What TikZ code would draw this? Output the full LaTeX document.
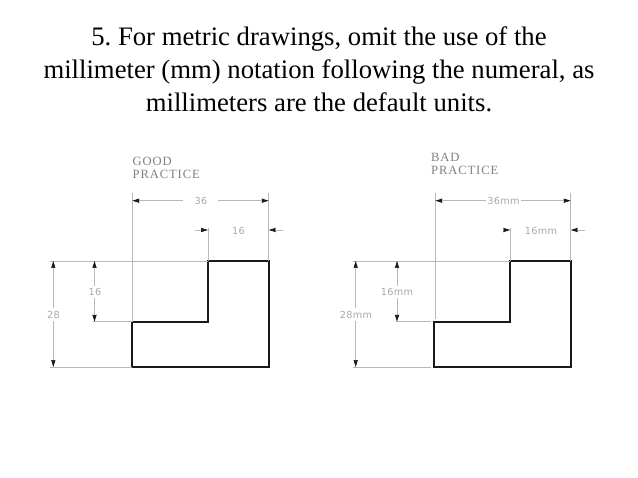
\documentclass[tikz,border=0pt]{standalone}
\usepackage{fontspec}
\setmainfont{Liberation Serif}
\newfontfamily\dimfont[LetterSpace=3]{DejaVu Sans}
\newfontfamily\headfont[LetterSpace=7]{Liberation Serif}
\usetikzlibrary{arrows.meta}
\definecolor{dimgray}{HTML}{B8B8B8}
\definecolor{dimtext}{HTML}{A8A8A8}
\definecolor{headtext}{HTML}{808080}
\tikzset{
  part/.style={draw=black!90,line width=1.9pt,line join=miter},
  extline/.style={draw=dimgray,line width=0.7pt},
  dimline/.style={draw=dimgray,line width=0.7pt,-{Stealth[length=7pt,width=4.2pt,inset=0.5pt,black!90]}},
  dimlabel/.style={text=dimtext,font=\fontsize{9.7}{11}\dimfont,inner sep=0pt},
  headlabel/.style={text=headtext,font=\fontsize{12.6}{12.5}\headfont,align=left,anchor=north west,inner sep=0pt},
  titlelabel/.style={text=black,font=\fontsize{26.7}{33}\selectfont\frenchspacing,align=center,inner sep=0pt}
}
\begin{document}
\begin{tikzpicture}[x=1pt,y=-1pt]
\useasboundingbox (0,0) rectangle (638,478);
\node[titlelabel] (title) at (319,69.5) {5. For metric drawings, omit the use of the\\millimeter (mm) notation following the numeral, as\\millimeters are the default units.};

% ---------- GOOD PRACTICE ----------
\begin{scope}[name prefix=g-]
\coordinate (tl) at (132.3,321.7);
\coordinate (sb) at (208,321.7);
\coordinate (st) at (208,261);
\coordinate (tr) at (268.7,261);
\coordinate (br) at (268.7,367);
\coordinate (bl) at (132.3,367);
\draw[part] (tl) -- (sb) -- (st) -- (tr) -- (br) -- (bl) -- cycle;
\node[headlabel] (head) at (132.5,157) {GOOD\\PRACTICE};
% extension lines
\coordinate (e1) at (132.3,193); \draw[extline] (tl) -- (e1);
\coordinate (e2) at (268.7,193); \draw[extline] (tr) -- (e2);
\coordinate (e3) at (208,228);   \draw[extline] (st) -- (e3);
\coordinate (e4) at (50,261);    \draw[extline] (st) -- (e4);
\coordinate (e5) at (93,321.7);  \draw[extline] (tl) -- (e5);
\coordinate (e6) at (50,367);    \draw[extline] (bl) -- (e6);
% dimension labels
\node[dimlabel] (d36) at (201,201) {36};
\node[dimlabel] (d16a) at (238.5,231) {16};
\node[dimlabel] (d16b) at (95,292) {16};
\node[dimlabel] (d28) at (53.5,314.5) {28};
% arrow targets
\coordinate (a1) at (132.3,200.7); \coordinate (a1t) at (183,200.7);
\coordinate (a2) at (268.7,200.7); \coordinate (a2t) at (218,200.7);
\draw[dimline] (a1t) -- (a1);
\draw[dimline] (a2t) -- (a2);
\coordinate (a3) at (208,230); \coordinate (a3t) at (195,230);
\coordinate (a4) at (268.7,230); \coordinate (a4t) at (283,230);
\draw[dimline] (a3t) -- (a3);
\draw[dimline] (a4t) -- (a4);
\coordinate (a5) at (94.5,261); \coordinate (a5t) at (94.5,286);
\coordinate (a6) at (94.5,321.7); \coordinate (a6t) at (94.5,298);
\draw[dimline] (a5t) -- (a5);
\draw[dimline] (a6t) -- (a6);
\coordinate (a7) at (53.3,261); \coordinate (a7t) at (53.3,308);
\coordinate (a8) at (53.3,367); \coordinate (a8t) at (53.3,321);
\draw[dimline] (a7t) -- (a7);
\draw[dimline] (a8t) -- (a8);
\end{scope}

% ---------- BAD PRACTICE ----------
\begin{scope}[name prefix=b-]
\coordinate (tl) at (434.3,321.7);
\coordinate (sb) at (510.3,321.7);
\coordinate (st) at (510.3,261);
\coordinate (tr) at (570.7,261);
\coordinate (br) at (570.7,367);
\coordinate (bl) at (434.3,367);
\draw[part] (tl) -- (sb) -- (st) -- (tr) -- (br) -- (bl) -- cycle;
\node[headlabel] (head) at (431,153) {BAD\\PRACTICE};
% extension lines
\coordinate (e1) at (435.3,193); \coordinate (e1b) at (435.3,319); \draw[extline] (e1b) -- (e1);
\coordinate (e2) at (570.7,193); \draw[extline] (tr) -- (e2);
\coordinate (e3) at (510.3,228); \draw[extline] (st) -- (e3);
\coordinate (e4) at (353,261);   \draw[extline] (st) -- (e4);
\coordinate (e5) at (396,321.7); \coordinate (e5b) at (431,321.7); \draw[extline] (e5b) -- (e5);
\coordinate (e6) at (353,367);   \coordinate (e6b) at (431,367); \draw[extline] (e6b) -- (e6);
% dimension labels
\node[dimlabel] (d36) at (503.5,201) {36mm};
\node[dimlabel] (d16a) at (541,231) {16mm};
\node[dimlabel] (d16b) at (397,292) {16mm};
\node[dimlabel] (d28) at (356,315) {28mm};
% arrow targets
\coordinate (a1) at (435.3,200.7); \coordinate (a1t) at (486,200.7);
\coordinate (a2) at (570.7,200.7); \coordinate (a2t) at (521,200.7);
\draw[dimline] (a1t) -- (a1);
\draw[dimline] (a2t) -- (a2);
\coordinate (a3) at (510.3,230); \coordinate (a3t) at (502.7,230);
\coordinate (a4) at (570.7,230); \coordinate (a4t) at (585,230);
\draw[dimline] (a3t) -- (a3);
\draw[dimline] (a4t) -- (a4);
\coordinate (a5) at (397,261); \coordinate (a5t) at (397,286);
\coordinate (a6) at (397,321.7); \coordinate (a6t) at (397,298);
\draw[dimline] (a5t) -- (a5);
\draw[dimline] (a6t) -- (a6);
\coordinate (a7) at (355.7,261); \coordinate (a7t) at (355.7,308);
\coordinate (a8) at (355.7,367); \coordinate (a8t) at (355.7,321);
\draw[dimline] (a7t) -- (a7);
\draw[dimline] (a8t) -- (a8);
\end{scope}
\end{tikzpicture}
\end{document}
